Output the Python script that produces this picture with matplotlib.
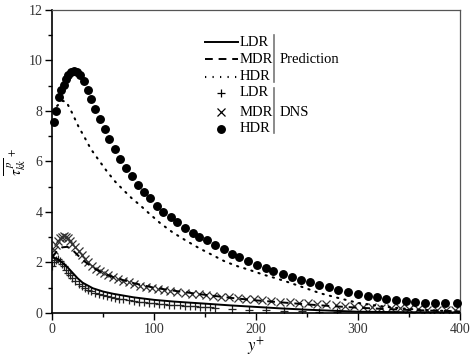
import matplotlib
matplotlib.use("Agg")
import matplotlib.pyplot as plt
from matplotlib.lines import Line2D
from matplotlib.ticker import MultipleLocator

plt.rcParams["font.family"] = ["Liberation Serif", "DejaVu Serif"]
plt.rcParams["mathtext.fontset"] = "stix"

# DNS, HDR (filled circles)
hdr_dns_x = [1.6, 3.9, 6.9, 9.1, 11.4, 13.7, 16, 18.6, 21.9, 24.5, 27.8, 31, 35, 38, 42.4,
             46.7, 51.6, 56, 62, 66.3, 72.5, 78.4, 84.2, 89.8, 96.3, 102.8, 109, 116.6, 123,
             130.6, 137.8, 144.6, 151.8, 160, 168.8, 176.3, 183.8, 192, 200.8, 209.6, 217,
             226, 235.7, 244, 253, 262, 272, 280.8, 290.6, 300.4, 309.5, 318.4, 327, 337,
             347, 356, 365.7, 375.5, 385, 396.7]
hdr_dns_y = [7.58, 8.0, 8.54, 8.84, 9.04, 9.26, 9.43, 9.56, 9.6, 9.53, 9.43, 9.17, 8.84, 8.48,
             8.09, 7.68, 7.3, 6.89, 6.49, 6.1, 5.74, 5.44, 5.08, 4.78, 4.55, 4.22, 4.0, 3.8,
             3.59, 3.36, 3.17, 3.0, 2.88, 2.7, 2.53, 2.35, 2.2, 2.07, 1.91, 1.78, 1.65, 1.54,
             1.42, 1.32, 1.21, 1.11, 1.02, 0.92, 0.82, 0.75, 0.69, 0.62, 0.57, 0.53, 0.46,
             0.44, 0.4, 0.4, 0.4, 0.4]

# DNS, MDR (crosses)
mdr_dns_x = [0, 2, 4, 6, 8, 10, 12, 14, 16, 18, 20, 23, 26, 29, 32, 35, 39, 43, 47, 51,
             55, 60, 65, 70, 75, 80, 86, 92, 98, 104, 110, 116, 123, 130, 137, 144, 151, 158,
             166, 174, 182, 190, 198, 206, 215, 224, 233, 242, 251, 260, 269, 278, 287, 296,
             305, 314, 323, 332, 341, 350, 359, 368, 377, 386, 395]
mdr_dns_y = [2.3, 2.5, 2.7, 2.85, 2.95, 3.0, 3.05, 3.0, 2.95, 2.85, 2.75, 2.6, 2.45, 2.3,
             2.15, 2.0, 1.88, 1.76, 1.66, 1.58, 1.5, 1.42, 1.35, 1.28, 1.22, 1.15, 1.08, 1.03,
             0.98, 0.94, 0.9, 0.86, 0.83, 0.8, 0.77, 0.74, 0.71, 0.68, 0.65, 0.63, 0.6, 0.57,
             0.54, 0.51, 0.48, 0.45, 0.42, 0.4, 0.38, 0.36, 0.34, 0.31, 0.29, 0.27, 0.25,
             0.23, 0.21, 0.19, 0.18, 0.16, 0.15, 0.13, 0.12, 0.11, 0.1]

# DNS, LDR (pluses)
ldr_dns_x = [0, 2, 4, 6, 8, 10, 12, 14, 16, 18, 20, 23, 26, 29, 32, 35, 38, 42, 46, 50,
             54, 58, 62, 66, 70, 75, 80, 85, 90, 95, 100, 105, 110, 115, 120, 125, 130, 135,
             140, 145, 150, 155, 160, 176, 193, 210, 227, 245, 262, 279]
ldr_dns_y = [1.85, 2.0, 2.1, 2.12, 2.05, 1.95, 1.85, 1.72, 1.6, 1.5, 1.4, 1.27, 1.15, 1.05,
             0.98, 0.92, 0.87, 0.81, 0.76, 0.71, 0.67, 0.63, 0.6, 0.57, 0.54, 0.5, 0.47,
             0.44, 0.42, 0.4, 0.38, 0.36, 0.34, 0.33, 0.31, 0.3, 0.29, 0.27, 0.26, 0.25,
             0.24, 0.22, 0.21, 0.16, 0.13, 0.11, 0.09, 0.07, 0.05, 0.04]

# Prediction curves
ldr_pred_x = [0, 5, 10, 15, 20, 25, 30, 40, 50, 60, 80, 100, 120, 150, 175, 200, 225, 250,
              275, 300, 350, 400]
ldr_pred_y = [2.2, 2.15, 2.0, 1.82, 1.6, 1.38, 1.2, 0.98, 0.85, 0.76, 0.62, 0.52, 0.45, 0.37,
              0.3, 0.24, 0.18, 0.13, 0.09, 0.05, 0.03, 0.02]
mdr_pred_x = [0, 5, 10, 15, 20, 25, 30, 40, 50, 60, 80, 100, 125, 150, 175, 200, 225, 250,
              275, 300, 325, 350, 375, 400]
mdr_pred_y = [2.2, 2.45, 2.6, 2.62, 2.5, 2.3, 2.1, 1.8, 1.58, 1.42, 1.18, 1.0, 0.85, 0.72,
              0.6, 0.5, 0.42, 0.34, 0.27, 0.21, 0.16, 0.12, 0.09, 0.06]
hdr_pred_x = [5, 10, 14, 20, 26, 32, 38, 45, 54, 62, 70, 78, 86, 95, 106, 118, 132, 145, 158,
              170, 182, 194, 207, 220, 233, 246, 263, 282, 300, 320, 340, 360, 380, 400]
hdr_pred_y = [8.2, 8.4, 8.37, 7.9, 7.38, 6.95, 6.5, 6.1, 5.6, 5.2, 4.87, 4.55, 4.28, 3.95,
              3.56, 3.2, 2.85, 2.55, 2.28, 2.03, 1.85, 1.7, 1.52, 1.37, 1.2, 1.02, 0.78, 0.58,
              0.4, 0.28, 0.19, 0.13, 0.09, 0.06]

fig = plt.figure(figsize=(4.74, 3.6), dpi=100)
ax = fig.add_axes([0.1097, 0.1306, 0.8608, 0.8417])

dotted = (0, (0.6, 3.0))
ax.plot(ldr_pred_x, ldr_pred_y, color="black", lw=1.4, zorder=3)
ax.plot(mdr_pred_x, mdr_pred_y, color="black", lw=1.4, ls=(0, (4, 3)), zorder=3)
ax.plot(hdr_pred_x, hdr_pred_y, color="black", lw=1.5, ls=dotted,
        dash_capstyle="round", zorder=3)
ax.plot(ldr_dns_x, ldr_dns_y, ls="none", marker="+", ms=5.5, mew=0.9, color="#222222", zorder=2)
ax.plot(mdr_dns_x, mdr_dns_y, ls="none", marker="x", ms=5.2, mew=0.9, color="#333333", zorder=2)
ax.plot(hdr_dns_x, hdr_dns_y, ls="none", marker="o", ms=5.4, color="black", zorder=4,
        clip_on=False)

ax.set_xlim(0, 400)
ax.set_ylim(0, 12)
ax.xaxis.set_major_locator(MultipleLocator(100))
ax.xaxis.set_minor_locator(MultipleLocator(50))
ax.yaxis.set_major_locator(MultipleLocator(2))
ax.yaxis.set_minor_locator(MultipleLocator(1))
ax.tick_params(which="major", direction="out", length=5, width=1, labelsize=10,
               labelcolor="#333333", pad=2)
ax.tick_params(which="minor", direction="out", length=3, width=1)
for side in ["left", "bottom"]:
    ax.spines[side].set_linewidth(1.2)
for side in ["top", "right"]:
    ax.spines[side].set_linewidth(0.9)
    ax.spines[side].set_color("#555555")

ax.set_xlabel(r"$y^{+}$", fontsize=12, labelpad=0)
ax.set_ylabel(r"$\overline{\tau^{\,p}_{kk}}^{\,+}$", fontsize=11)
ax.yaxis.set_label_coords(-0.06, 0.5)

# grouped legend
tr = ax.transAxes
rows = [0.894, 0.838, 0.780, 0.726, 0.663, 0.608]
styles = [dict(ls="-", lw=1.4), dict(ls=(0, (4, 3)), lw=1.4), dict(ls=dotted, lw=1.5)]
for y, st in zip(rows[:3], styles):
    ax.add_line(Line2D([0.375, 0.456], [y, y], color="black", transform=tr, **st))
markers = [dict(marker="+", ms=5.5, mew=0.9), dict(marker="x", ms=5.2, mew=0.9),
           dict(marker="o", ms=5.4)]
for y, mk in zip(rows[3:], markers):
    ax.add_line(Line2D([0.414], [y], ls="none", color="black", transform=tr, **mk))
for y, lab in zip(rows, ["LDR", "MDR", "HDR", "LDR", "MDR", "HDR"]):
    ax.text(0.459, y, lab, transform=tr, fontsize=10.5, va="center", ha="left")
ax.add_line(Line2D([0.544, 0.544], [0.917, 0.762], color="#777777", lw=1.2, transform=tr))
ax.add_line(Line2D([0.544, 0.544], [0.743, 0.594], color="#777777", lw=1.2, transform=tr))
ax.text(0.557, 0.838, "Prediction", transform=tr, fontsize=10.5, va="center", ha="left")
ax.text(0.557, 0.663, "DNS", transform=tr, fontsize=10.5, va="center", ha="left")

fig.savefig("out.png", dpi=100)
